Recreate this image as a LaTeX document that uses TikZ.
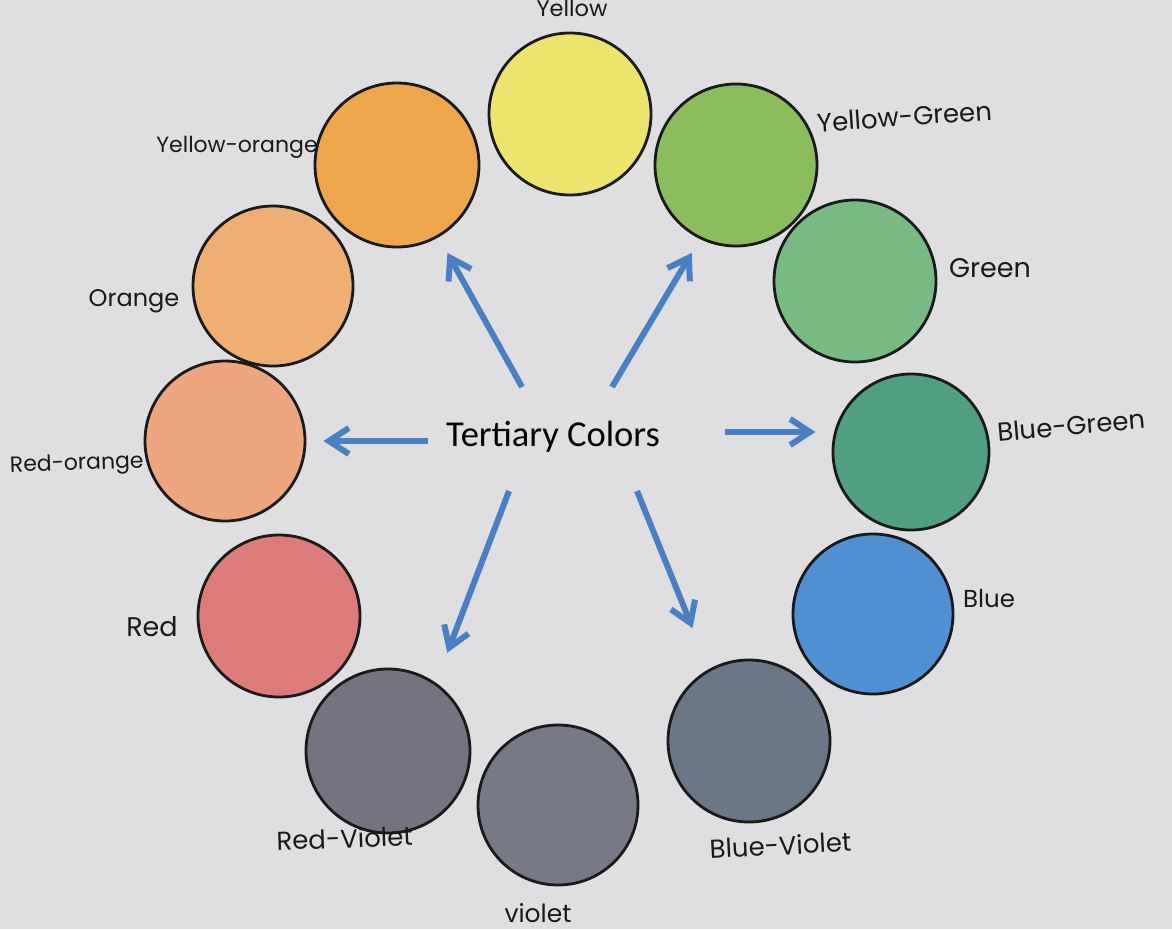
\documentclass[tikz,border=0pt]{standalone}
\usepackage{fontspec}
\usepackage{xcolor}
\usepackage{tikz}
\usetikzlibrary{arrows.meta,positioning}
\newfontfamily\handfont{Poppins}
\newfontfamily\titlefont{Carlito}
\definecolor{paper}{HTML}{DFDFE1}
\definecolor{inkline}{HTML}{1A1A1A}
\definecolor{arrowblue}{HTML}{4A7FC4}
\definecolor{cyel}{HTML}{ECE46C}
\definecolor{cyg}{HTML}{8CBD5C}
\definecolor{cgr}{HTML}{78B984}
\definecolor{cbg}{HTML}{4F9F80}
\definecolor{cbl}{HTML}{4F8FD2}
\definecolor{cbv}{HTML}{6B7786}
\definecolor{cvi}{HTML}{777A86}
\definecolor{crv}{HTML}{73747F}
\definecolor{crd}{HTML}{DC7B79}
\definecolor{cro}{HTML}{EDA67F}
\definecolor{cor}{HTML}{EFAF72}
\definecolor{cyo}{HTML}{EEA64C}
\tikzset{swatch/.style={circle,draw=inkline,line width=2.8pt,inner sep=0pt,minimum size=#1pt},
  lbl/.style={font=\handfont\fontsize{#1}{#1}\selectfont,text=inkline,anchor=base,inner sep=0pt},
  arr/.style={draw=arrowblue,line width=6pt,-{Straight Barb[length=20pt,width=26pt]}}}

\begin{document}
\begin{tikzpicture}[x=1pt,y=-1pt]
        \useasboundingbox (0,0) rectangle (1172,929);
        \fill[paper] (0,0) rectangle (1172,929);

        % colour swatches
        \node[swatch=162,fill=cyel] (yel) at (570,114) {};
        \node[swatch=162,fill=cyg] (yg) at (736,165) {};
        \node[swatch=162,fill=cgr] (gr) at (855,281) {};
        \node[swatch=156,fill=cbg] (bg) at (911,452) {};
        \node[swatch=160,fill=cbl] (bl) at (873,614) {};
        \node[swatch=162,fill=cbv] (bv) at (749,741) {};
        \node[swatch=160,fill=cvi] (vi) at (558,805) {};
        \node[swatch=164,fill=crv] (rv) at (388,751) {};
        \node[swatch=162,fill=crd] (rd) at (279,616) {};
        \node[swatch=160,fill=cro] (ro) at (225,441) {};
        \node[swatch=160,fill=cor] (or) at (273,286) {};
        \node[swatch=164,fill=cyo] (yo) at (397,165) {};

        % names
        \node[lbl=22.5] (yel-l) at (572,16) {Yellow};
        \node[lbl=26,rotate=4] (yg-l) at (905,126) {Yellow-Green};
        \node[lbl=27] (gr-l) at (990,277) {Green};
        \node[lbl=26,rotate=5] (bg-l) at (1072,435) {Blue-Green};
        \node[lbl=24.5] (bl-l) at (989,607) {Blue};
        \node[lbl=26,rotate=3] (bv-l) at (781,855) {Blue-Violet};
        \node[lbl=25] (vi-l) at (538,922) {violet};
        \node[lbl=26,rotate=2] (rv-l) at (345,848) {Red-Violet};
        \node[lbl=27] (rd-l) at (152,636) {Red};
        \node[lbl=22,rotate=2] (ro-l) at (77,470) {Red-orange};
        \node[lbl=24] (or-l) at (134,306) {Orange};
        \node[lbl=22] (yo-l) at (237,152) {Yellow-orange};

        \node[font=\titlefont\fontsize{36.5}{40}\selectfont,anchor=base,inner sep=0pt] (tert) at (553,446) {Tertiary Colors};

        % arrows out of the title
        \coordinate (t1) at (522,387);
        \coordinate (t2) at (612,387);
        \coordinate (t3) at (428,441);
        \coordinate (t4) at (725,432);
        \coordinate (t5) at (509,491);
        \coordinate (t6) at (637,491);

        \draw [arr,shorten >=18pt] (t1) -- (yo.300);
        \draw [arr,shorten >=16pt] (t2) -- (yg.244);
        \draw [arr,shorten >=17pt] (t3) -- (ro);
        \draw [arr,shorten >=16pt] (t4) -- (t4 -| bg.west);
        \draw [arr,shorten >=32pt] (t5) -- (rv.55);
        \draw [arr,shorten >=44pt] (t6) -- (bv.119);
    \end{tikzpicture}
\end{document}
